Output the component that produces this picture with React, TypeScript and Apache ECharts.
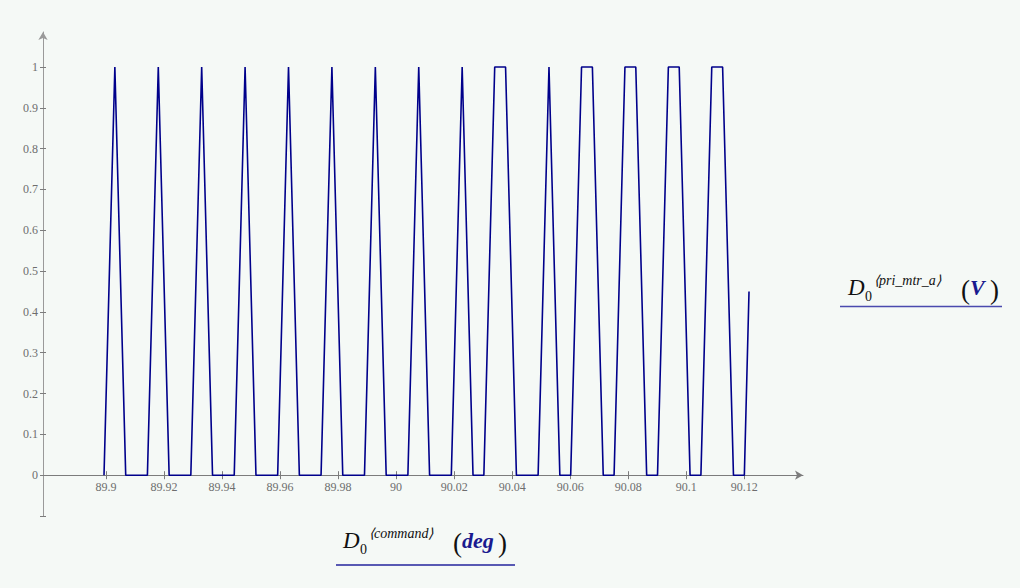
import React, { useEffect, useRef } from 'react'
import * as echarts from 'echarts'

// D0<command> (deg) sample positions
const commandDeg = [
  89.89931, 89.90305, 89.90679, 89.91053, 89.91427, 89.91802, 89.92176, 89.9255,
  89.92924, 89.93298, 89.93672, 89.94046, 89.9442, 89.94794, 89.95169, 89.95543,
  89.95917, 89.96291, 89.96665, 89.97039, 89.97413, 89.97787, 89.98161, 89.98536,
  89.9891, 89.99284, 89.99658, 90.00032, 90.00406, 90.0078, 90.01154, 90.01528,
  90.01903, 90.02277, 90.02651, 90.03025, 90.03399, 90.03773, 90.04147, 90.04521,
  90.04895, 90.0527, 90.05644, 90.06018, 90.06392, 90.06766, 90.0714, 90.07514,
  90.07888, 90.08262, 90.08637, 90.09011, 90.09385, 90.09759, 90.10133, 90.10507,
  90.10881, 90.11255, 90.11629, 90.12004, 90.12165
]

// D0<pri_mtr_a> (V)
const priMtrA = [
  0, 1, 0, 0, 0, 1, 0, 0,
  0, 1, 0, 0, 0, 1, 0, 0,
  0, 1, 0, 0, 0, 1, 0, 0,
  0, 1, 0, 0, 0, 1, 0, 0,
  0, 1, 0, 0, 1, 1, 0, 0,
  0, 1, 0, 0, 1, 1, 0, 0,
  1, 1, 0, 0, 1, 1, 0, 0,
  1, 1, 0, 0, 0.45
]

const xTickLabels = ['89.9', '89.92', '89.94', '89.96', '89.98', '90', '90.02', '90.04', '90.06', '90.08', '90.1', '90.12']
const yTickLabels = ['0', '0.1', '0.2', '0.3', '0.4', '0.5', '0.6', '0.7', '0.8', '0.9', '1']
const yTickMarks = [-0.1, 0, 0.1, 0.2, 0.3, 0.4, 0.5, 0.6, 0.7, 0.8, 0.9, 1]

const X_MIN = 89.87828
const X_MAX = 90.14026
const Y_MIN = -0.1
const Y_MAX = 1.0858
// the x axis sits on y = 0, which is this far above the bottom of the grid
const X_AXIS_LIFT = -40.8

const SERIF = 'Liberation Serif'
const AXIS_GREY = '#7c7c7c'
const LABEL_GREY = '#6e6e6e'
const NAVY = '#1a1a8f'

const txt = (text: string, x: number, y: number, font: string, fill = '#111') => ({
  type: 'text',
  silent: true,
  style: { text, x, y, font, fill, verticalAlign: 'middle', textAlign: 'left' }
})

const axisTitle = (
  left: number, baseline: number, sup: string, supW: number, unit: string, unitW: number,
  lineFrom: number, lineTo: number, lineY: number, lineColor: string
) => {
  const paren = left + 25 + supW + 10
  return [
    txt('D', left, baseline - 7.5, `italic 23px ${SERIF}`),
    txt('0', left + 17, baseline + 1.5, `14px ${SERIF}`),
    txt(sup, left + 26, baseline - 15, `italic 14px ${SERIF}`),
    txt('(', paren, baseline - 5, `27px ${SERIF}`),
    txt(unit, paren + 9, baseline - 7.5, `italic bold 22px ${SERIF}`, NAVY),
    txt(')', paren + 9 + unitW, baseline - 5, `27px ${SERIF}`),
    {
      type: 'line',
      silent: true,
      shape: { x1: lineFrom, y1: lineY, x2: lineTo, y2: lineY },
      style: { stroke: lineColor, lineWidth: 1.5 }
    }
  ]
}

const App: React.FC = () => {
  const chartRef = useRef<HTMLDivElement>(null)

  useEffect(() => {
    document.body.style.margin = '0'
    document.body.style.background = '#f5f9f6'
    if (!chartRef.current) return
    const chart = echarts.init(chartRef.current, null, { renderer: 'svg' })

    const xTickValues = xTickLabels.map(Number)
    const yTickValues = yTickLabels.map(Number)

    const option: echarts.EChartsOption = {
      animation: false,
      backgroundColor: '#f5f9f6',
      grid: { left: 43, top: 32, width: 760, height: 484, containLabel: false },
      xAxis: [
        {
          type: 'value',
          position: 'bottom',
          offset: X_AXIS_LIFT,
          min: X_MIN,
          max: X_MAX,
          axisLine: {
            onZero: false,
            symbol: ['none', 'arrow'],
            symbolSize: [7, 8],
            lineStyle: { color: AXIS_GREY, width: 1 }
          },
          axisTick: { customValues: xTickValues, length: 4, lineStyle: { color: AXIS_GREY } },
          axisLabel: {
            customValues: xTickValues,
            formatter: (v: number) => xTickLabels[xTickValues.findIndex(t => Math.abs(t - v) < 1e-6)] ?? '',
            color: LABEL_GREY,
            fontFamily: SERIF,
            fontSize: 12,
            margin: 6
          },
          splitLine: { show: false }
        },
        {
          type: 'value',
          position: 'bottom',
          offset: X_AXIS_LIFT,
          min: X_MIN,
          max: X_MAX,
          axisLine: { show: false, onZero: false },
          axisTick: { inside: true, customValues: xTickValues, length: 4, lineStyle: { color: AXIS_GREY } },
          axisLabel: { show: false },
          splitLine: { show: false }
        }
      ],
      yAxis: [
        {
          type: 'value',
          position: 'left',
          min: Y_MIN,
          max: Y_MAX,
          axisLine: {
            show: true,
            onZero: false,
            symbol: ['none', 'arrow'],
            symbolSize: [7, 8],
            lineStyle: { color: '#9a9a9a', width: 1 }
          },
          axisTick: { show: true, customValues: yTickMarks, length: 3, lineStyle: { color: AXIS_GREY } },
          axisLabel: {
            customValues: yTickValues,
            formatter: (v: number) => yTickLabels[yTickValues.findIndex(t => Math.abs(t - v) < 1e-6)] ?? '',
            color: LABEL_GREY,
            fontFamily: SERIF,
            fontSize: 12,
            margin: 5
          },
          splitLine: { show: false }
        },
        {
          type: 'value',
          position: 'left',
          min: Y_MIN,
          max: Y_MAX,
          axisLine: { show: false, onZero: false },
          axisTick: { show: true, inside: true, customValues: yTickMarks, length: 3, lineStyle: { color: AXIS_GREY } },
          axisLabel: { show: false },
          splitLine: { show: false }
        }
      ],
      series: [
        {
          type: 'line',
          xAxisIndex: 0,
          yAxisIndex: 0,
          data: commandDeg.map((x, i) => [x, priMtrA[i]]),
          showSymbol: false,
          lineStyle: { color: '#00008b', width: 1.6 },
          itemStyle: { color: '#00008b' },
          z: 3
        }
      ],
      graphic: [
        ...axisTitle(343, 548, '\u27e8command\u27e9', 75, 'deg', 36, 336, 515, 565, '#23239c'),
        ...axisTitle(848, 295, '\u27e8pri_mtr_a\u27e9', 78, 'V', 20, 840, 1002, 306.5, '#4a4aae')
      ]
    } as any

    chart.setOption(option)
    return () => chart.dispose()
  }, [])

  return <div ref={chartRef} style={{ width: 1020, height: 588 }} />
}

export default App
